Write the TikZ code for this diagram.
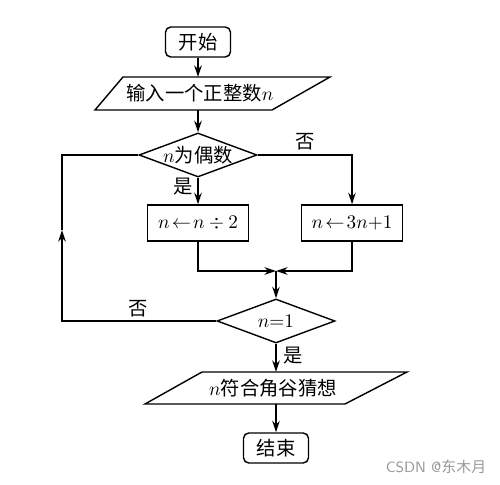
\documentclass[tikz,border=0pt]{standalone}
\usepackage{amsmath, amssymb}
\usepackage{fontspec}
\usepackage{tikz}
\usetikzlibrary{calc, shapes.geometric, positioning, arrows.meta}

\newfontfamily\cjk{Noto Sans CJK SC}

\begin{document}
\begin{tikzpicture}[>={Stealth[length=2.3mm,width=1.5mm]}, line width=0.8pt,
    txt/.style={font=\cjk\fontsize{11}{13}\selectfont, inner sep=0pt},
    term/.style={txt, draw, rounded corners=3pt, minimum width=1.3cm, minimum height=0.6cm},
    proc/.style={txt, draw, minimum width=2.02cm, minimum height=0.72cm},
    cond/.style={txt, draw, diamond, aspect=2.66, minimum width=2.36cm, minimum height=0.88cm},
    lab/.style={font=\cjk\fontsize{11}{13}\selectfont, inner sep=1pt}]

    \useasboundingbox (0,0) rectangle (10,9.68);

    % =================================================================
    % 1. CÁC KHỐI CHÍNH
    % =================================================================
    \node[term] (start) at (3.96, 8.84) {开始};

    % khoi nhap (hinh binh hanh ve tay)
    \node[txt] (input) at (4.0, 7.82) {输入一个正整数$n$};
    \draw (2.46,8.14) -- (6.6,8.14) -- (5.44,7.48) -- (1.9,7.48) -- cycle;
    \coordinate (input-n) at (3.96, 8.14);
    \coordinate (input-s) at (3.96, 7.48);

    \node[cond] (even) at (3.96, 6.58) {$n$为偶数};

    \node[proc] (half)   at (3.96, 5.22) {$n\!\leftarrow\! n\div 2$};
    \node[proc] (triple) at (7.04, 5.22) {$n\!\leftarrow\! 3n{+}1$};

    \coordinate (merge) at (5.52, 4.26);

    \node[cond] (one) at (5.52, 3.26) {$n{=}1$};

    % khoi xuat
    \node[txt] (output) at (5.46, 1.92) {$n$符合角谷猜想};
    \draw (4.04,2.24) -- (8.14,2.24) -- (6.9,1.6) -- (2.9,1.6) -- cycle;
    \coordinate (output-n) at (5.52, 2.24);
    \coordinate (output-s) at (5.52, 1.6);

    \node[term] (stop) at (5.52, 0.72) {结束};

    % =================================================================
    % 2. CÁC MŨI TÊN
    % =================================================================
    \draw[->] (start) -- (input-n);
    \draw[->] (input-s) -- (even);
    \draw[->] (even) -- (half);
    \draw[->] (even.east) -| (triple.north);
    \draw[->] (half.south) |- (merge);
    \draw[->] (triple.south) |- (merge);
    \draw[->] (merge) -- (one);
    \draw[->] (one) -- (output-n);
    \draw[->] (output-s) -- (stop);

    % vong lap ben trai
    \coordinate (loop) at (1.24, 5.08);
    \draw[->] (one.west) -| (loop);
    \draw (loop) |- (even.west);

    % =================================================================
    % 3. NHÃN
    % =================================================================
    \node[lab] (no1)  at (6.1, 6.84)  {否};
    \node[lab] (yes1) at (3.66, 5.94) {是};
    \node[lab] (no2)  at (2.76, 3.5)  {否};
    \node[lab] (yes2) at (5.86, 2.56) {是};

    \node[font=\sffamily\fontsize{8.5}{10}\selectfont, text=black!40, inner sep=0pt]
        (mark) at (8.72, 0.34) {CSDN @{\cjk 东木月}};

\end{tikzpicture}
\end{document}
